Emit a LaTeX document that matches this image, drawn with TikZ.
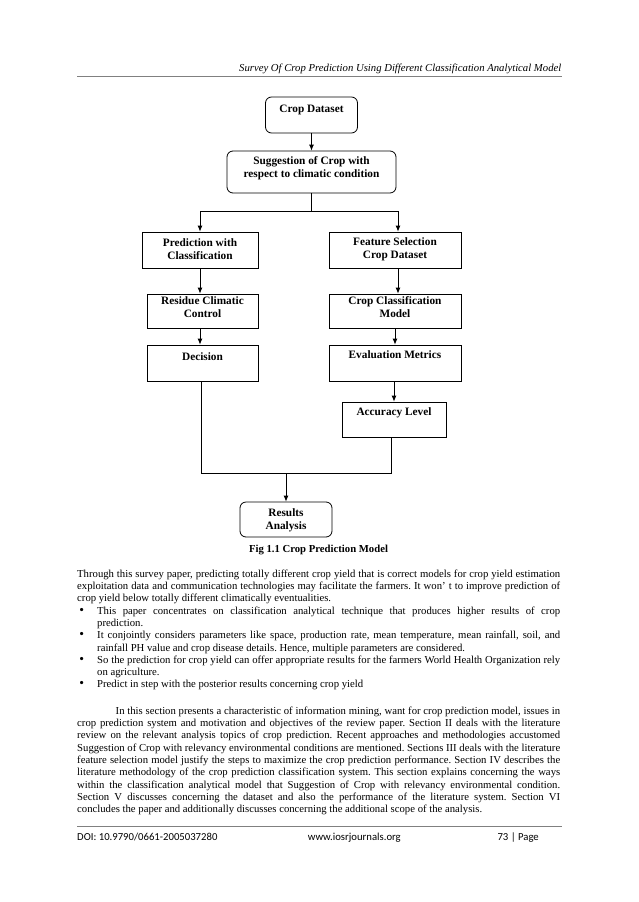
\documentclass[tikz,border=0pt]{standalone}
\usepackage{fontspec}
\setmainfont{Liberation Serif}
\newfontfamily\footfont{Carlito}
\usetikzlibrary{arrows.meta,calc}
\newcommand{\bulitem}{\hangindent=20pt\hangafter=1\makebox[20pt][l]{\hspace{2.2pt}{\fontsize{13.5}{12.3}\selectfont •}}}
\begin{document}
\begin{tikzpicture}[x=1pt,y=-1pt,
  box/.style={draw,line width=0.8pt,inner sep=0pt},
  rbox/.style={box,rounded corners=6pt},
  lbl/.style={font=\fontsize{11.3}{12.6}\selectfont\bfseries,align=center,inner sep=0pt},
  arr/.style={-{Latex[length=6pt,width=5pt]},line width=0.8pt},
  ln/.style={line width=0.8pt},
  body/.style={font=\fontsize{10.7}{12.3}\selectfont,inner sep=0pt}]
\useasboundingbox[fill=white] (0,0) rectangle (638,902);
% header
\node[body,font=\fontsize{10.7}{12.3}\selectfont\itshape,anchor=base east] (hdr) at (561.5,71) {Survey Of Crop Prediction Using Different Classification Analytical Model};
\draw[gray,line width=1.3pt] (77,76.5) -- (562,76.5);
% boxes
\node[rbox,minimum width=92pt,minimum height=36pt] (ds) at (311.5,115) {};
\node[rbox,minimum width=169pt,minimum height=42pt] (sug) at (311.5,172) {};
\node[box,minimum width=116pt,minimum height=36pt] (pwc) at (200,250) {};
\node[box,minimum width=132pt,minimum height=36pt] (fs) at (395,250) {};
\node[box,minimum width=111pt,minimum height=34pt] (rcc) at (202.5,311) {};
\node[box,minimum width=132pt,minimum height=34pt] (ccm) at (395,311) {};
\node[box,minimum width=111pt,minimum height=36pt] (dec) at (202.5,363) {};
\node[box,minimum width=132pt,minimum height=36pt] (em) at (395,363) {};
\node[box,minimum width=104pt,minimum height=35pt] (acc) at (394,419.5) {};
\node[rbox,minimum width=92pt,minimum height=35pt] (res) at (286,519.5) {};
% labels
\node[lbl] (tds) at (311.5,110) {Crop Dataset};
\node[lbl] (tsug) at (311.5,168.5) {Suggestion of Crop with\\respect to climatic condition};
\node[lbl] (tpwc) at (200,249) {Prediction with\\Classification};
\node[lbl] (tfs) at (395,249) {Feature Selection\\Crop Dataset};
\node[lbl] (trcc) at (202.5,307.2) {Residue Climatic\\Control};
\node[lbl] (tccm) at (395,307.2) {Crop Classification\\Model};
\node[lbl] (tdec) at (202.5,356.5) {Decision};
\node[lbl] (tem) at (395,355) {Evaluation Metrics};
\node[lbl] (tacc) at (394,412.5) {Accuracy Level};
\node[lbl] (tres) at (286,520) {Results\\Analysis};
% connectors
\coordinate (bl) at (200,211);
\coordinate (br) at (398,211);
\coordinate (jl) at (201,473);
\coordinate (jr) at (391,473);
\draw[arr] (ds.south) -- (sug.north);
\draw[ln] (sug.south) -- (sug.south |- bl);
\draw[ln] (bl) -- (br);
\draw[arr] (bl) -- (bl |- pwc.north);
\draw[arr] (br) -- (br |- fs.north);
\draw[arr] (pwc.south) -- (pwc.south |- rcc.north);
\draw[arr] (pwc.south |- rcc.south) -- (pwc.south |- dec.north);
\draw[arr] (br |- fs.south) -- (br |- ccm.north);
\draw[arr] (ccm.south) -- (em.north);
\draw[arr] (em.south -| acc.north) -- (acc.north);
\draw[ln] (jl |- dec.south) -- (jl) -- (jr) -- (jr |- acc.south);
\draw[arr] (res.north |- jl) -- (res.north);
% caption
\node[body,font=\fontsize{10.7}{12.3}\selectfont\bfseries] (cap) at (318.5,550) {Fig 1.1 Crop Prediction Model};
% body text
\node[body,anchor=north west,text width=483pt,align=justify] (txt) at (77,568.4) {%
\setlength{\parindent}{0pt}\setlength{\parskip}{0pt}\emergencystretch=2em\frenchspacing
\strut Through this survey paper, predicting totally different crop yield that is correct models for crop yield estimation\linebreak
exploitation data and communication technologies may facilitate the farmers. It won’\ t to improve prediction of\linebreak
crop yield below totally different climatically eventualities.\par
\bulitem This paper concentrates on classification analytical technique that produces higher results of crop\linebreak
prediction.\par
\bulitem It conjointly considers parameters like space, production rate, mean temperature, mean rainfall, soil, and\linebreak
rainfall PH value and crop disease details. Hence, multiple parameters are considered.\par
\bulitem So the prediction for crop yield can offer appropriate results for the farmers World Health Organization rely\linebreak
on agriculture.\par
\bulitem Predict in step with the posterior results concerning crop yield\par
\vskip 14pt
\hspace*{38.5pt}In this section presents a characteristic of information mining, want for crop prediction model, issues in\linebreak
crop prediction system and motivation and objectives of the review paper. Section II deals with the literature\linebreak
review on the relevant analysis topics of crop prediction. Recent approaches and methodologies accustomed\linebreak
Suggestion of Crop with relevancy environmental conditions are mentioned. Sections III deals with the literature\linebreak
feature selection model justify the steps to maximize the crop prediction performance. Section IV describes the\linebreak
literature methodology of the crop prediction classification system. This section explains concerning the ways\linebreak
within the classification analytical model that Suggestion of Crop with relevancy environmental condition.\linebreak
Section V discusses concerning the dataset and also the performance of the literature system. Section VI\linebreak
concludes the paper and additionally discusses concerning the additional scope of the analysis.\par};
% footer
\draw[gray,line width=1pt] (77,826) -- (562,826);
\node[font=\footfont\fontsize{10.7}{12}\selectfont,anchor=base west,inner sep=0pt] (f1) at (77,840) {DOI: 10.9790/0661-2005037280};
\node[font=\footfont\fontsize{10.7}{12}\selectfont,anchor=base east,inner sep=0pt] (f2) at (401,840) {www.iosrjournals.org};
\node[font=\footfont\fontsize{10.7}{12}\selectfont,anchor=base east,inner sep=0pt] (f3) at (539,840) {73 | Page};
\end{tikzpicture}
\end{document}
